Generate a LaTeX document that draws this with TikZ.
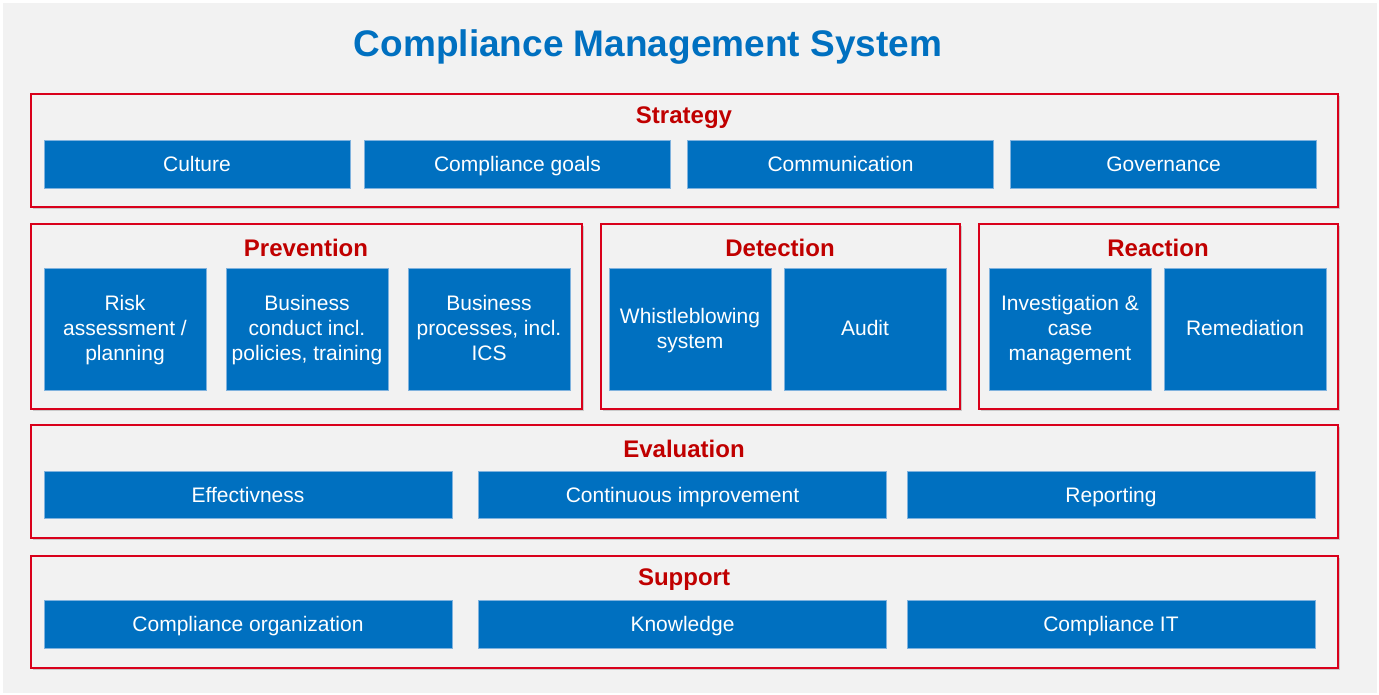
\documentclass[tikz,border=0pt]{standalone}
\usepackage{fontspec}
\setmainfont{Liberation Sans}
\usepackage{xcolor}
\usepackage{tikz}
\usetikzlibrary{shapes, shadows, positioning}

\definecolor{cmsblue}{HTML}{0070C0}
\definecolor{cmsedge}{HTML}{7FB2DE}
\definecolor{cmsred}{HTML}{D9001B}
\definecolor{cmsdark}{HTML}{C00000}
\definecolor{cmsback}{HTML}{F2F2F2}

\begin{document}
\begin{tikzpicture}
  [
    x=1pt, y=-1pt,
    Frame/.style={rectangle, draw=cmsred, fill=cmsback, line width=2.6pt, inner sep=0pt,
      drop shadow={shadow xshift=1.5pt, shadow yshift=-2pt, opacity=.35}},
    Head/.style={text=cmsdark, font=\fontsize{24}{28}\selectfont\bfseries, inner sep=0pt},
    Box/.style={rectangle, fill=cmsblue, draw=cmsedge, line width=.8pt, text=white,
      align=center, inner sep=0pt, font=\fontsize{21}{25}\selectfont},
    Wide/.style={Box, minimum width=306pt, minimum height=48pt, text height=15pt, text depth=0pt},
    Tall/.style={Box, minimum width=162pt, minimum height=122pt, text depth=2pt},
    Long/.style={Box, minimum width=408pt, minimum height=47pt, text height=15pt, text depth=0pt}
  ]
  % Background
  \fill[white] (0,0) rectangle (1379,695);
  \fill[cmsback] (3,3) rectangle (1377,693);

  % Title
  \node[text=cmsblue, font=\fontsize{37}{44}\selectfont\bfseries] (title) at (648, 47) {Compliance Management System};

  % Frames (x, y)
  \node[Frame, minimum width=1307pt, minimum height=113pt] (strategy) at (684.5, 150.5) {};
  \node[Frame, minimum width=551pt, minimum height=185pt] (prevention) at (306.5, 316.5) {};
  \node[Frame, minimum width=359pt, minimum height=185pt] (detection) at (780.5, 316.5) {};
  \node[Frame, minimum width=359pt, minimum height=185pt] (reaction) at (1158.5, 316.5) {};
  \node[Frame, minimum width=1307pt, minimum height=113pt] (evaluation) at (684.5, 481.5) {};
  \node[Frame, minimum width=1307pt, minimum height=112pt] (support) at (684.5, 612) {};

  % Headings
  \node[Head] (strategyhead) at (684, 118) {Strategy};
  \node[Head] (preventionhead) at (306, 248) {Prevention};
  \node[Head] (detectionhead) at (780, 248) {Detection};
  \node[Head] (reactionhead) at (1158, 248) {Reaction};
  \node[Head] (evaluationhead) at (684, 449) {Evaluation};
  \node[Head] (supporthead) at (684, 580) {Support};

  % Strategy
  \node[Wide] (culture) at (197, 164) {Culture};
  \node[Wide] (goals) at (517.5, 164) {Compliance goals};
  \node[Wide] (communication) at (840.5, 164) {Communication};
  \node[Wide] (governance) at (1163.5, 164) {Governance};

  % Prevention
  \node[Tall] (risk) at (125, 329) {Risk\\assessment /\\planning};
  \node[Tall] (conduct) at (307, 329) {Business\\conduct incl.\\policies, training};
  \node[Tall] (processes) at (489, 329) {Business\\processes, incl.\\ICS};

  % Detection
  \node[Tall] (whistle) at (690, 329) {Whistleblowing\\system};
  \node[Tall] (audit) at (865, 329) {Audit};

  % Reaction
  \node[Tall] (investigation) at (1070, 329) {Investigation \&\\case\\management};
  \node[Tall] (remediation) at (1245, 329) {Remediation};

  % Evaluation
  \node[Long] (effect) at (248, 494.5) {Effectivness};
  \node[Long] (improve) at (682.5, 494.5) {Continuous improvement};
  \node[Long] (reporting) at (1111, 494.5) {Reporting};

  % Support
  \node[Long, minimum height=48pt] (organization) at (248, 624) {Compliance organization};
  \node[Long, minimum height=48pt] (knowledge) at (682.5, 624) {Knowledge};
  \node[Long, minimum height=48pt] (complianceit) at (1111, 624) {Compliance IT};

\end{tikzpicture}
\end{document}
